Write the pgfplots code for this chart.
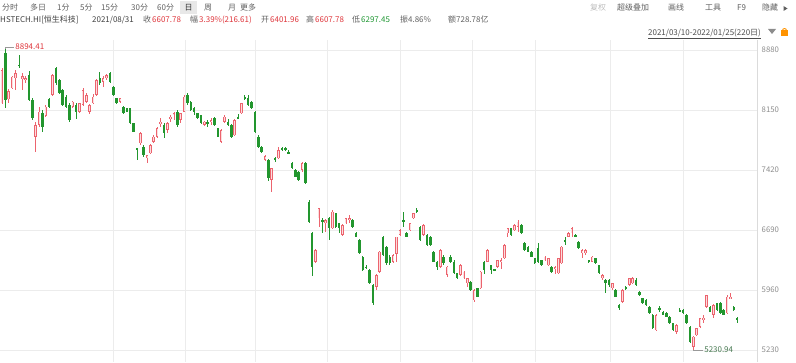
\documentclass[border=0pt]{standalone}
\usepackage{fontspec}
\setmainfont{Noto Sans CJK SC}
\usepackage{pgfplots}
\pgfplotsset{compat=1.18}
\usepackage{pgfplotstable}
\definecolor{upc}{RGB}{236,100,110}
\definecolor{upfill}{RGB}{252,220,222}
\definecolor{dnc}{RGB}{34,150,46}
\definecolor{txtred}{RGB}{222,52,58}
\definecolor{txtgreen}{RGB}{30,150,50}
\definecolor{lbl}{RGB}{95,95,95}
\definecolor{lightlbl}{RGB}{190,190,190}
\definecolor{gridc}{RGB}{236,236,236}
\newcommand\hf{\fontsize{8}{9}\selectfont}

\pgfplotstableread{
i O H L C
0 8231 8660 8220 8637
2 8280 8400 8230 8380
3 8414 8560 8400 8556
4 8535 8637 8393 8596
6 8523 8596 8393 8564
7 8515 8560 8480 8535
10 7825 8008 7643 7967
11 7967 8191 7947 8130
13 8077 8210 8060 8191
15 8333 8590 8320 8576
21 8191 8260 8180 8251
23 8130 8240 8110 8231
24 8211 8420 8200 8393
25 8251 8353 8240 8333
26 8130 8220 8100 8211
27 8231 8340 8220 8312
28 8333 8530 8320 8515
30 8495 8560 8430 8535
31 8535 8590 8520 8576
35 8251 8300 8240 8292
41 7744 7880 7730 7866
43 7562 7602 7501 7602
44 7623 7740 7610 7724
45 7764 7845 7744 7825
46 7825 7947 7805 7927
47 7987 8048 7947 8008
49 7906 8008 7866 7988
50 8048 8089 8008 8069
51 8089 8130 8028 8109
53 8028 8115 7988 8109
54 8130 8330 8120 8312
60 7967 8015 7960 8008
62 8008 8048 7967 8028
65 7764 7915 7744 7906
66 8008 8089 7988 8069
69 7845 8040 7830 8028
71 8109 8240 8100 8231
78 7541 7600 7530 7590
80 7298 7450 7156 7440
82 7562 7704 7550 7663
89 7420 7520 7400 7505
93 6304 6460 6290 6446
94 6831 6960 6730 6953
96 6770 6820 6669 6811
98 6710 6930 6700 6912
101 6629 6760 6620 6750
102 6770 6840 6760 6831
103 6811 6872 6770 6831
111 6000 6160 5960 6142
112 6182 6440 6170 6425
116 6304 6395 6290 6385
117 6401.96 6607.78 6297.45 6607.78
118 6629 6700 6615 6689
121 6689 6780 6680 6770
122 6831 6900 6820 6892
125 6629 6760 6620 6750
130 6243 6460 6230 6446
132 6142 6250 6120 6243
136 6142 6275 6130 6263
137 6101 6190 6090 6182
138 6040 6110 6000 6101
140 5837 5970 5817 5959
142 5980 6190 5970 6182
144 6304 6460 6295 6446
147 6243 6330 6230 6324
148 6304 6345 6220 6324
149 6345 6515 6335 6507
150 6649 6720 6610 6710
152 6689 6760 6680 6750
153 6730 6810 6670 6791
161 6324 6375 6315 6365
162 6263 6355 6250 6345
164 6222 6250 6160 6240
165 6162 6355 6150 6345
166 6284 6495 6275 6486
168 6608 6670 6600 6649
169 6649 6730 6610 6710
172 6405 6460 6345 6446
173 6405 6460 6390 6446
175 6304 6370 6295 6365
178 6101 6160 6080 6142
181 5979 6050 5960 6040
184 5817 5970 5800 5959
186 6020 6110 6010 6101
187 6040 6120 6030 6101
194 5472 5665 5460 5655
200 5452 5545 5420 5533
205 5269 5400 5230.94 5391
206 5411 5500 5400 5492
207 5513 5625 5500 5614
208 5595 5650 5555 5625
209 5756 5900 5745 5898
211 5655 5785 5615 5776
215 5675 5900 5665 5878
216 5857 5920 5850 5878
}\updata

\pgfplotstableread{
i O H L C
1 8840 8894.41 8170 8272
5 8698 8819 8657 8690
8 8576 8620 8260 8272
9 8272 8292 8028 8049
12 8109 8150 7886 7947
14 8280 8300 8170 8191
16 8657 8670 8460 8475
17 8515 8530 8340 8353
18 8393 8410 8200 8211
19 8312 8330 8170 8191
20 8211 8230 8008 8028
22 8211 8230 8040 8130
29 8535 8608 8450 8475
32 8596 8610 8480 8495
33 8434 8440 8320 8333
34 8292 8300 8220 8231
36 8191 8200 8100 8109
37 8170 8180 8120 8130
38 8170 8180 7980 7988
39 7988 7995 7880 7886
40 7683 7690 7541 7663
42 7704 7720 7580 7602
48 7967 7988 7805 7866
52 8130 8150 7947 7967
55 8332 8353 8210 8231
56 8251 8260 8140 8150
57 8170 8190 8089 8130
58 8109 8115 8040 8048
59 8089 8095 7980 7988
61 7998 8028 7947 7988
63 8048 8060 7960 7967
64 7927 7935 7820 7825
67 8008 8040 7960 7967
68 7967 7980 7810 7825
70 8069 8100 8040 8048
72 8312 8332 8270 8292
73 8292 8332 8200 8211
74 8251 8260 8160 8170
75 8130 8140 7866 7886
76 7825 7840 7690 7704
77 7704 7715 7630 7643
79 7541 7550 7290 7318
81 7562 7582 7521 7541
83 7683 7700 7650 7663
84 7683 7700 7650 7670
85 7643 7660 7610 7623
86 7509 7520 7430 7440
87 7420 7430 7330 7338
88 7399 7410 7290 7298
90 7505 7520 7250 7262
91 7034 7050 6770 6791
92 6649 6660 6130 6243
95 6811 6831 6649 6791
97 6831 6850 6568 6710
99 6892 6900 6720 6730
100 6770 6780 6649 6710
104 6811 6830 6720 6730
105 6649 6660 6600 6608
106 6568 6575 6395 6405
107 6365 6375 6190 6202
108 6243 6260 6220 6233
109 6202 6210 6030 6040
110 6020 6030 5776 5797
113 6608 6620 6375 6385
114 6486 6500 6270 6284
115 6365 6380 6270 6284
119 6811 6912 6730 6791
120 6657 6670 6600 6608
123 6933 6953 6892 6912
124 6730 6740 6560 6568
126 6629 6640 6500 6507
127 6608 6620 6500 6507
128 6425 6435 6295 6304
129 6304 6310 6200 6243
131 6365 6380 6270 6284
133 6365 6380 6290 6304
134 6304 6320 6150 6162
135 6162 6170 6090 6101
139 6061 6070 5950 5959
141 5980 5990 5870 5878
143 6304 6315 6150 6202
145 6263 6270 6160 6202
146 6210 6220 6190 6200
151 6710 6720 6620 6629
154 6750 6760 6640 6649
155 6535 6545 6440 6446
156 6486 6490 6420 6426
157 6426 6430 6360 6365
158 6345 6350 6280 6284
159 6466 6530 6290 6304
160 6324 6330 6255 6263
163 6243 6250 6170 6182
167 6568 6610 6510 6550
170 6625 6640 6600 6610
171 6547 6555 6460 6466
174 6324 6330 6290 6304
176 6345 6350 6280 6284
177 6263 6270 6150 6162
179 6081 6090 5920 6040
180 6081 6090 6000 6020
182 5959 5970 5870 5878
183 5776 5790 5720 5736
185 5990 6010 5960 5980
188 6081 6110 6010 6020
189 5939 5945 5890 5898
190 5857 5865 5790 5797
191 5837 5845 5770 5776
192 5756 5765 5670 5675
193 5655 5665 5480 5492
195 5736 5760 5690 5715
196 5695 5710 5650 5655
197 5675 5690 5630 5634
198 5634 5640 5550 5553
199 5553 5560 5465 5472
201 5715 5740 5690 5695
202 5715 5730 5670 5675
203 5655 5665 5545 5553
204 5513 5520 5320 5330
210 5756 5765 5690 5695
212 5797 5805 5710 5716
213 5797 5810 5670 5675
214 5716 5730 5650 5655
217 5756 5765 5710 5716
218 5614 5634 5553 5603
}\dndata

\begin{document}
\begin{tikzpicture}[x=1bp,y=1bp]
\useasboundingbox (0,0) rectangle (796,362);
% ---- header row 1
\fill[black!9] (180,348) rectangle (197,361);
\begin{scope}[every node/.style={anchor=base west, inner sep=0pt, font=\hf, text=lbl}]
\node at (2,352) {分时};
\node at (30,352) {多日};
\node at (57,352) {1分};
\node at (80,352) {5分};
\node at (101,352) {15分};
\node at (131,352) {30分};
\node at (157,352) {60分};
\node[text=black!80] at (184.5,352) {日};
\node at (204,352) {周};
\node at (228,352) {月};
\node at (240,352) {更多};
\node[text=lightlbl] at (590,352) {复权};
\node at (617,352) {超级叠加};
\node at (668,352) {画线};
\node at (705,352) {工具};
\node at (737,352) {F9};
\node at (762,352) {隐藏};
% row 2
\node[text=black!75] at (0,340) {HSTECH.HI[恒生科技]};
\node[text=black!75] at (92,340) {2021/08/31};
\node at (143,340) {收};
\node[text=txtred] at (152,340) {6607.78};
\node at (190,340) {幅};
\node[text=txtred] at (199,340) {3.39\%(216.61)};
\node at (261,340) {开};
\node[text=txtred] at (270,340) {6401.96};
\node at (306,340) {高};
\node[text=txtred] at (315,340) {6607.78};
\node at (352,340) {低};
\node[text=txtgreen] at (361,340) {6297.45};
\node at (400,340) {振4.86\%};
\node at (448,340) {额728.78亿};
% row 3
\node[text=black!70] at (648,327) {\underline{2021/03/10-2022/01/25(220日)}};
\end{scope}
\fill[lbl] (783.5,356) -- (787.5,353.5) -- (783.5,351) -- cycle;
\fill[black!45] (768,333) -- (776,333) -- (772,328) -- cycle;
\fill[orange!85!yellow] (781,326) rectangle (788,331.5);
\draw[orange!85!yellow, line width=0.9bp] (782.5,331.5) arc (180:0:2bp);

\begin{axis}[
  at={(0,0)}, anchor=south west,
  scale only axis, width=757bp, height=322bp,
  xmin=-0.593, xmax=223.9, ymin=5084, ymax=9001.7,
  axis x line*=bottom, axis y line*=right,
  x axis line style={draw=none},
  y axis line style={draw=black!14, line width=0.6bp},
  xtick={32.9,54.3,75.0,96.4,118.0,139.4,158.1,180.3,202.0},
  xticklabels={},
  ytick={5230,5960,6690,7420,8150,8880},
  major tick length=0pt,
  xmajorgrids, ymajorgrids,
  grid style={gridc, line width=0.6bp},
  yticklabel pos=right,
  yticklabel style={anchor=west, inner sep=0pt, xshift=4.5bp, text=black!45, font=\fontsize{7.8}{9}\selectfont},
  /pgf/number format/.cd, fixed, 1000 sep={}, assume math mode=true,
]
% up candles: wick, body outline, hollow interior
\addplot[draw=none, no markers, forget plot,
  error bars/.cd, y dir=both, y explicit, error mark=none,
  error bar style={line width=0.7bp, draw=upc}]
  table[x=i, y expr={(\thisrow{H}+\thisrow{L})/2}, y error expr={(\thisrow{H}-\thisrow{L})/2}] {\updata};
\addplot[draw=none, no markers, forget plot,
  error bars/.cd, y dir=both, y explicit, error mark=none,
  error bar style={line width=2.6bp, draw=upc}]
  table[x=i, y expr={(\thisrow{O}+\thisrow{C})/2}, y error expr={max((\thisrow{C}-\thisrow{O})/2,6)}] {\updata};
\addplot[draw=none, no markers, forget plot,
  error bars/.cd, y dir=both, y explicit, error mark=none,
  error bar style={line width=1.0bp, draw=upfill}]
  table[x=i, y expr={(\thisrow{O}+\thisrow{C})/2}, y error expr={max((\thisrow{C}-\thisrow{O})/2-7,0)}] {\updata};
% down candles: wick and solid body
\addplot[draw=none, no markers, forget plot,
  error bars/.cd, y dir=both, y explicit, error mark=none,
  error bar style={line width=0.7bp, draw=dnc}]
  table[x=i, y expr={(\thisrow{H}+\thisrow{L})/2}, y error expr={(\thisrow{H}-\thisrow{L})/2}] {\dndata};
\addplot[draw=none, no markers, forget plot,
  error bars/.cd, y dir=both, y explicit, error mark=none,
  error bar style={line width=2.5bp, draw=dnc}]
  table[x=i, y expr={(\thisrow{O}+\thisrow{C})/2}, y error expr={max((\thisrow{O}-\thisrow{C})/2,6)}] {\dndata};
% extreme labels
\draw[black!40, line width=0.5bp] (axis cs:1,8894.41) -- ([yshift=2bp]axis cs:1,8894.41) -- ([xshift=9bp,yshift=2bp]axis cs:1,8894.41)
  node[anchor=west, inner sep=0.8bp, text=txtred, font=\fontsize{8}{9}\selectfont] {8894.41};
\draw[black!40, line width=0.5bp] (axis cs:205,5230.94) -- ([xshift=10bp]axis cs:205,5230.94)
  node[anchor=west, inner sep=0.8bp, text={rgb,255:red,70;green,120;blue,80}, font=\fontsize{8}{9}\selectfont] {5230.94};
\end{axis}
\end{tikzpicture}
\end{document}
